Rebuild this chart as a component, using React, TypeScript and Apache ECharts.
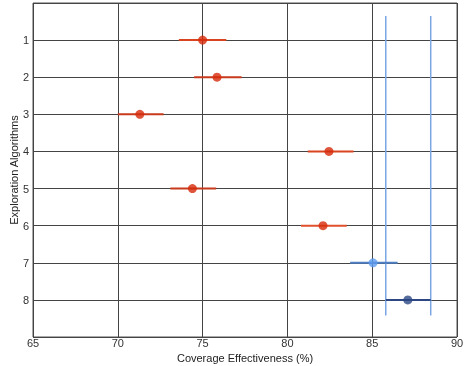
import React, { useEffect, useRef } from "react";
import * as echarts from "echarts";

const algorithms = [1, 2, 3, 4, 5, 6, 7, 8];
const means = [75.0, 75.85, 71.3, 82.45, 74.4, 82.1, 85.05, 87.1];
const lowers = [73.6, 74.5, 70.0, 81.2, 73.1, 80.8, 83.7, 85.8];
const uppers = [76.4, 77.3, 72.7, 83.9, 75.8, 83.5, 86.5, 88.45];
const pointColors = ["#d62a0a", "#d62a0a", "#d62a0a", "#d62a0a", "#d62a0a", "#d62a0a", "#5b9bf0", "#2c4783"];
const barColors = ["#d9441f", "#c93a1c", "#c93a1c", "#d9441f", "#c93a1c", "#e0502c", "#4f7fc4", "#2c4783"];
const refLines = [85.8, 88.45];
const refSpan = [0.35, 8.42];
const xTicks = [65, 70, 75, 80, 85, 90];

export default function App() {
  const ref = useRef<HTMLDivElement>(null);
  useEffect(() => {
    if (!ref.current) return;
    const chart = echarts.init(ref.current, null, { renderer: "svg" });
    const font = "Liberation Sans, Arial, Helvetica, sans-serif";
    chart.setOption({
      animation: false,
      grid: {
        left: 33, right: 17, top: 3, bottom: 29,
        outerBoundsMode: "none", containLabel: false,
        show: true, borderColor: "#555", borderWidth: 1,
      },
      xAxis: {
        type: "value",
        min: xTicks[0],
        max: xTicks[xTicks.length - 1],
        interval: 5,
        name: "Coverage Effectiveness (%)",
        nameLocation: "middle",
        nameGap: 6,
        nameTextStyle: { fontFamily: font, fontSize: 11, color: "#222" },
        axisLine: { show: false },
        axisTick: { show: false },
        axisLabel: { fontFamily: font, fontSize: 11, color: "#333", margin: 0 },
        splitLine: { show: true, lineStyle: { color: "#444", width: 1 } },
      },
      yAxis: {
        type: "value",
        min: 0,
        max: 9,
        interval: 1,
        inverse: true,
        name: "Exploration Algorithms",
        nameLocation: "middle",
        nameRotate: 90,
        nameGap: 14,
        nameMoveOverlap: false,
        nameTextStyle: { fontFamily: font, fontSize: 11, color: "#222" },
        axisLine: { show: false },
        axisTick: { show: false },
        axisLabel: {
          fontFamily: font,
          fontSize: 11,
          color: "#333",
          margin: 4,
          formatter: (v: number) => (algorithms.includes(v) ? String(v) : ""),
        },
        splitLine: { show: true, lineStyle: { color: "#444", width: 1 } },
      },
      series: [
        ...refLines.map((x) => ({
          type: "line",
          data: [[x, refSpan[0]], [x, refSpan[1]]],
          symbol: "none",
          lineStyle: { color: "#7ba6e4", width: 1.5 },
          z: 2,
        })),
        {
          type: "custom",
          z: 3,
          data: algorithms.map((a, i) => [lowers[i], uppers[i], a, i]),
          renderItem: (params: any, api: any) => {
            const p1 = api.coord([api.value(0), api.value(2)]);
            const p2 = api.coord([api.value(1), api.value(2)]);
            const idx = api.value(3);
            return {
              type: "line",
              shape: { x1: p1[0], y1: p1[1], x2: p2[0], y2: p2[1] },
              style: { stroke: barColors[idx], lineWidth: 2 },
            };
          },
        },
        {
          type: "scatter",
          z: 4,
          symbolSize: 9,
          data: algorithms.map((a, i) => ({
            value: [means[i], a],
            itemStyle: { color: pointColors[i] },
          })),
        },
      ],
    });
    return () => chart.dispose();
  }, []);
  return <div ref={ref} style={{ position: "fixed", left: 0, top: 0, width: 474, height: 366 }} />;
}
